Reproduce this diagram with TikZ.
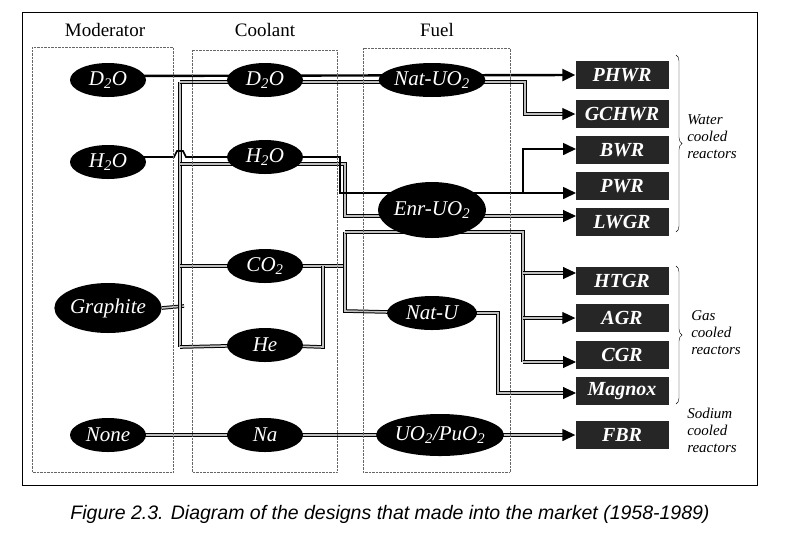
\documentclass[tikz,border=0pt]{standalone}
\usepackage{fontspec}
\setmainfont{Liberation Serif}
\setsansfont{Liberation Sans}
\usetikzlibrary{shapes.geometric,arrows.meta,backgrounds,decorations.pathreplacing}
\begin{document}
\begin{tikzpicture}[x=1pt,y=-1pt,
  el/.style={ellipse,fill=black,text=white,minimum width=76pt,minimum height=34pt,inner sep=0pt,font=\fontsize{21}{22}\selectfont\itshape},
  rb/.style={fill=black!85,text=white,minimum width=93pt,minimum height=28pt,inner sep=0pt,font=\fontsize{20}{22}\selectfont\bfseries\itshape},
  col/.style={draw=black!60,densely dotted,thin},
  hd/.style={font=\fontsize{19}{21}\selectfont},
  dbl/.style={draw=black,double=black!25,double distance=1.6pt,line width=1pt},
  thk/.style={draw=black,line width=2.4pt},
  sol/.style={draw=black,line width=1.6pt},
  arr/.style={-{Triangle[length=13pt,width=12pt]}},
  lab/.style={font=\fontsize{15}{17}\selectfont\itshape,align=left},
  br/.style={decorate,decoration={brace,amplitude=6pt},thin}]
\useasboundingbox (0,0) rectangle (791,542);
\draw[thin] (22,12) rectangle (757,485);
\draw[col] (32,47) rectangle (173,472);
\draw[col] (192,50) rectangle (337,472);
\draw[col] (363,48) rectangle (510,472);
\node[hd] (hm) at (105,30) {Moderator};
\node[hd] (hc) at (265,30) {Coolant};
\node[hd] (hf) at (437,30) {Fuel};
% moderators
\node[el] (md2o) at (108,80) {D\textsubscript{2}O};
\node[el] (mh2o) at (108,162) {H\textsubscript{2}O};
\node[el,minimum width=88pt,minimum height=50pt] (gr) at (108,308) {Graphite};
\node[el] (none) at (108,435) {None};
% coolants
\node[el] (cd2o) at (265,80) {D\textsubscript{2}O};
\node[el] (ch2o) at (265,157) {H\textsubscript{2}O};
\node[el] (co2) at (265,266) {CO\textsubscript{2}};
\node[el] (he) at (265,345) {He};
\node[el] (na) at (265,435) {Na};
% fuels
\node[el,minimum width=90pt] (nuo2) at (432,80) {Nat-UO\textsubscript{2}};
\node[el,minimum width=98pt,minimum height=56pt] (euo2) at (432,210) {Enr-UO\textsubscript{2}};
\node[el,minimum width=90pt] (natu) at (432,313) {Nat-U};
\node[el,minimum width=106pt,minimum height=42pt] (pu) at (440,435) {UO\textsubscript{2}/PuO\textsubscript{2}};
% reactors
\node[rb] (phwr) at (622,75) {PHWR};
\node[rb] (gchwr) at (622,114) {GCHWR};
\node[rb] (bwr) at (622,150) {BWR};
\node[rb] (pwr) at (622,186) {PWR};
\node[rb] (lwgr) at (622,222) {LWGR};
\node[rb] (htgr) at (622,281) {HTGR};
\node[rb] (agr) at (622,318) {AGR};
\node[rb] (cgr) at (622,355) {CGR};
\node[rb] (magnox) at (622,391) {Magnox};
\node[rb] (fbr) at (622,435) {FBR};
% braces and labels
\draw[br] (676,55) -- (676,232);
\draw[br] (676,266) -- (676,404);
\node[lab] (lw) at (712,137) {Water\\cooled\\reactors};
\node[lab] (lg) at (716,333) {Gas\\cooled\\reactors};
\node[lab] (ls) at (712,430) {Sodium\\cooled\\reactors};
\node[font=\fontsize{19.5}{21}\selectfont\sffamily\itshape] (cap) at (390,514) {Figure 2.3. Diagram of the designs that made into the market (1958-1989)};
\begin{scope}[on background layer]
\draw[thk,arr] (md2o.center) ++(0,-4) -- (phwr.west);
\draw[dbl] (gr.east) -- (184,306);
\draw[dbl] (180,82) -- (180,347);
\draw[dbl,arr] (180,82) -- (525,82) -- (525,114) -- (gchwr.west);
\draw[dbl,arr] (180,164) -- (345,164) -- (345,216) -- (576,216);
\draw[dbl] (180,266) -- (co2.center) -- (345,266);
\draw[dbl] (180,347) -- (he.center) -- (323,347) -- (323,266);
\draw[dbl] (345,232) -- (345,311) -- (natu.center);
\draw[dbl] (345,232) -- (523,232) -- (523,362);
\draw[dbl,arr] (523,273) -- (576,273);
\draw[dbl,arr] (523,318) -- (agr.west);
\draw[dbl,arr] (523,362) -- (576,362);
\draw[dbl,arr] (natu.center) -- (498,313) -- (498,393) -- (576,393);
\draw[sol,arr] (mh2o.center) ++(0,-5) -- (174,157) -- (177,151) -- (183,151) -- (186,157) -- (340,157) -- (340,193) -- (576,193);
\draw[sol,arr] (523,193) -- (523,149) -- (576,149);
\draw[dbl,line width=1.4pt,arr] (none.center) -- (fbr.west);
\end{scope}
\end{tikzpicture}
\end{document}
